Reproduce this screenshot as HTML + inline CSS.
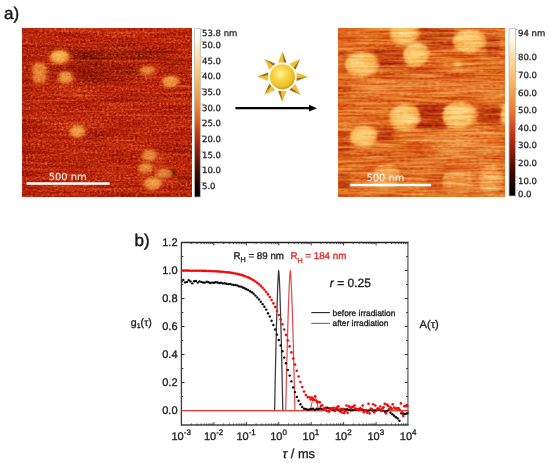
<!DOCTYPE html>
<html><head><meta charset="utf-8"><title>Figure</title><style>
html,body{margin:0;padding:0;background:#fff;}
svg{display:block;}
text{font-family:"Liberation Sans",Arial,sans-serif;fill:#1c1c1c;text-rendering:geometricPrecision;}
#plot text{stroke:#1c1c1c;stroke-width:0.32px;}
.ax{font-size:11px;}
.lab{font-size:9.75px;}
.leg{font-size:8.4px;}
.pl{font-size:17px;fill:#1a1a1a;stroke:#1a1a1a;stroke-width:0.45px;}
.cb{font-family:"DejaVu Sans",sans-serif;font-size:8.5px;fill:#262626;stroke:#262626;stroke-width:0.3px;}
.sb{font-family:"DejaVu Sans",sans-serif;font-size:9.9px;fill:#fff;}
</style></head>
<body><svg width="550" height="463" viewBox="0 0 550 463">
<defs>
<clipPath id="clipP"><rect x="181.5" y="242.5" width="227" height="182.5"/></clipPath>
<clipPath id="clipL"><rect x="22" y="28" width="170" height="169"/></clipPath>
<clipPath id="clipR"><rect x="338" y="28" width="167" height="169"/></clipPath>
<filter id="b1" x="-50%" y="-50%" width="200%" height="200%"><feGaussianBlur stdDeviation="1"/></filter>
<filter id="b2" x="-50%" y="-50%" width="200%" height="200%"><feGaussianBlur stdDeviation="1.6"/></filter>
<filter id="b3" x="-50%" y="-50%" width="200%" height="200%"><feGaussianBlur stdDeviation="3"/></filter>
<filter id="b4" x="-50%" y="-50%" width="200%" height="200%"><feGaussianBlur stdDeviation="4"/></filter>
<filter id="b08" x="-50%" y="-50%" width="200%" height="200%"><feGaussianBlur stdDeviation="0.8"/></filter>
<filter id="b15" x="-50%" y="-50%" width="200%" height="200%"><feGaussianBlur stdDeviation="1.3"/></filter>
<filter id="texL" x="0" y="0" width="100%" height="100%" color-interpolation-filters="sRGB">
  <feTurbulence type="fractalNoise" baseFrequency="0.42 0.55" numOctaves="2" seed="4" result="n1"/>
  <feTurbulence type="fractalNoise" baseFrequency="0.02 0.35" numOctaves="2" seed="11" result="n2"/>
  <feComposite in="n1" in2="n2" operator="arithmetic" k1="0" k2="0.75" k3="0.45" k4="-0.1" result="n"/>
  <feColorMatrix in="n" type="matrix" values="1.5 0 0 0 -0.25  1.5 0 0 0 -0.25  1.5 0 0 0 -0.25  0 0 0 0 1"/>
</filter>
<filter id="texR" x="0" y="0" width="100%" height="100%" color-interpolation-filters="sRGB">
  <feTurbulence type="fractalNoise" baseFrequency="0.25 0.5" numOctaves="1" seed="3" result="n1"/>
  <feTurbulence type="fractalNoise" baseFrequency="0.025 0.4" numOctaves="2" seed="9" result="n2"/>
  <feComposite in="n1" in2="n2" operator="arithmetic" k1="0" k2="0.35" k3="0.85" k4="-0.1" result="n"/>
  <feColorMatrix in="n" type="matrix" values="1.35 0 0 0 -0.175  1.35 0 0 0 -0.175  1.35 0 0 0 -0.175  0 0 0 0 1"/>
</filter>
<radialGradient id="gY" cx="0.45" cy="0.42" r="0.55"><stop offset="0" stop-color="#fac868"/><stop offset="0.55" stop-color="#f4b050"/><stop offset="0.85" stop-color="#e88a3a"/><stop offset="1" stop-color="#e07830" stop-opacity="0"/></radialGradient>
<radialGradient id="gO" cx="0.45" cy="0.42" r="0.55"><stop offset="0" stop-color="#ee9c48"/><stop offset="0.55" stop-color="#e68a3c"/><stop offset="0.85" stop-color="#e07c34"/><stop offset="1" stop-color="#d86a2c" stop-opacity="0"/></radialGradient>
<radialGradient id="gO2" cx="0.45" cy="0.42" r="0.55"><stop offset="0" stop-color="#f4aa54"/><stop offset="0.55" stop-color="#ee9a44"/><stop offset="0.85" stop-color="#e4843a"/><stop offset="1" stop-color="#d86a2c" stop-opacity="0"/></radialGradient>
<radialGradient id="gO3" cx="0.45" cy="0.42" r="0.55"><stop offset="0" stop-color="#ea9444"/><stop offset="0.55" stop-color="#e2823a"/><stop offset="0.85" stop-color="#d87030"/><stop offset="1" stop-color="#d06028" stop-opacity="0"/></radialGradient>
<radialGradient id="gR" cx="0.45" cy="0.45" r="0.55"><stop offset="0" stop-color="#fdd88a"/><stop offset="0.6" stop-color="#fbcc78"/><stop offset="0.82" stop-color="#f6b862"/><stop offset="0.95" stop-color="#f0a050" stop-opacity="0.6"/><stop offset="1" stop-color="#f0a050" stop-opacity="0"/></radialGradient>
<radialGradient id="gRd2" cx="0.45" cy="0.45" r="0.55"><stop offset="0" stop-color="#f4b060"/><stop offset="0.6" stop-color="#f0a858"/><stop offset="0.85" stop-color="#ec9c4c"/><stop offset="1" stop-color="#e89040" stop-opacity="0"/></radialGradient>
<radialGradient id="gRd" cx="0.45" cy="0.45" r="0.55"><stop offset="0" stop-color="#f8bc6c"/><stop offset="0.6" stop-color="#f4ae5c"/><stop offset="0.85" stop-color="#eea050"/><stop offset="1" stop-color="#e89040" stop-opacity="0"/></radialGradient>
<radialGradient id="sung" cx="0.42" cy="0.38" r="0.68"><stop offset="0" stop-color="#fff6b8"/><stop offset="0.28" stop-color="#fcdc50"/><stop offset="0.72" stop-color="#f0c02a"/><stop offset="1" stop-color="#c89412"/></radialGradient>
<linearGradient id="cbL" x1="0" y1="0" x2="0" y2="1"><stop offset="0" stop-color="#ffffff"/><stop offset="0.07" stop-color="#fef8ec"/><stop offset="0.15" stop-color="#fde2b4"/><stop offset="0.256" stop-color="#fbc87c"/><stop offset="0.35" stop-color="#f6ac58"/><stop offset="0.44" stop-color="#ee8e3e"/><stop offset="0.53" stop-color="#e06828"/><stop offset="0.6" stop-color="#cc4418"/><stop offset="0.68" stop-color="#a82810"/><stop offset="0.76" stop-color="#781a08"/><stop offset="0.85" stop-color="#400a04"/><stop offset="0.93" stop-color="#180402"/><stop offset="1" stop-color="#000000"/></linearGradient>
<linearGradient id="cbR" x1="0" y1="0" x2="0" y2="1"><stop offset="0" stop-color="#ffffff"/><stop offset="0.07" stop-color="#fef8ec"/><stop offset="0.15" stop-color="#fde2b4"/><stop offset="0.256" stop-color="#fbc87c"/><stop offset="0.35" stop-color="#f6ac58"/><stop offset="0.44" stop-color="#ee8e3e"/><stop offset="0.53" stop-color="#e06828"/><stop offset="0.6" stop-color="#cc4418"/><stop offset="0.68" stop-color="#a82810"/><stop offset="0.76" stop-color="#781a08"/><stop offset="0.85" stop-color="#400a04"/><stop offset="0.93" stop-color="#180402"/><stop offset="1" stop-color="#000000"/></linearGradient>
</defs>

<rect width="550" height="463" fill="#fff"/>
<g id="plot"><line x1="181.4" y1="242.5" x2="408.6" y2="242.5" stroke="#222" stroke-width="1.4"/><line x1="181.4" y1="241.8" x2="181.4" y2="425.6" stroke="#3a3a3a" stroke-width="1.3"/><line x1="181" y1="425" x2="408.6" y2="425" stroke="#444" stroke-width="1.3"/><line x1="407.9" y1="241.8" x2="407.9" y2="425.6" stroke="#777" stroke-width="1.5"/><line x1="181.5" y1="410.5" x2="184.5" y2="410.5" stroke="#333" stroke-width="1"/><line x1="407.9" y1="410.5" x2="404.9" y2="410.5" stroke="#333" stroke-width="1"/><line x1="181.5" y1="396.5" x2="183.3" y2="396.5" stroke="#333" stroke-width="1"/><line x1="407.9" y1="396.5" x2="406.1" y2="396.5" stroke="#333" stroke-width="1"/><line x1="181.5" y1="382.5" x2="184.5" y2="382.5" stroke="#333" stroke-width="1"/><line x1="407.9" y1="382.5" x2="404.9" y2="382.5" stroke="#333" stroke-width="1"/><line x1="181.5" y1="368.5" x2="183.3" y2="368.5" stroke="#333" stroke-width="1"/><line x1="407.9" y1="368.5" x2="406.1" y2="368.5" stroke="#333" stroke-width="1"/><line x1="181.5" y1="354.5" x2="184.5" y2="354.5" stroke="#333" stroke-width="1"/><line x1="407.9" y1="354.5" x2="404.9" y2="354.5" stroke="#333" stroke-width="1"/><line x1="181.5" y1="340.5" x2="183.3" y2="340.5" stroke="#333" stroke-width="1"/><line x1="407.9" y1="340.5" x2="406.1" y2="340.5" stroke="#333" stroke-width="1"/><line x1="181.5" y1="326.5" x2="184.5" y2="326.5" stroke="#333" stroke-width="1"/><line x1="407.9" y1="326.5" x2="404.9" y2="326.5" stroke="#333" stroke-width="1"/><line x1="181.5" y1="312.5" x2="183.3" y2="312.5" stroke="#333" stroke-width="1"/><line x1="407.9" y1="312.5" x2="406.1" y2="312.5" stroke="#333" stroke-width="1"/><line x1="181.5" y1="298.5" x2="184.5" y2="298.5" stroke="#333" stroke-width="1"/><line x1="407.9" y1="298.5" x2="404.9" y2="298.5" stroke="#333" stroke-width="1"/><line x1="181.5" y1="284.5" x2="183.3" y2="284.5" stroke="#333" stroke-width="1"/><line x1="407.9" y1="284.5" x2="406.1" y2="284.5" stroke="#333" stroke-width="1"/><line x1="181.5" y1="270.5" x2="184.5" y2="270.5" stroke="#333" stroke-width="1"/><line x1="407.9" y1="270.5" x2="404.9" y2="270.5" stroke="#333" stroke-width="1"/><line x1="181.5" y1="256.5" x2="183.3" y2="256.5" stroke="#333" stroke-width="1"/><line x1="407.9" y1="256.5" x2="406.1" y2="256.5" stroke="#333" stroke-width="1"/><line x1="181.5" y1="242.5" x2="184.5" y2="242.5" stroke="#333" stroke-width="1"/><line x1="407.9" y1="242.5" x2="404.9" y2="242.5" stroke="#333" stroke-width="1"/><line x1="181.5" y1="425" x2="181.5" y2="422.0" stroke="#333" stroke-width="0.9"/><line x1="181.5" y1="242.5" x2="181.5" y2="245.5" stroke="#333" stroke-width="0.9"/><line x1="191.3" y1="425" x2="191.3" y2="423.4" stroke="#333" stroke-width="0.9"/><line x1="191.3" y1="242.5" x2="191.3" y2="244.1" stroke="#333" stroke-width="0.9"/><line x1="197.0" y1="425" x2="197.0" y2="423.4" stroke="#333" stroke-width="0.9"/><line x1="197.0" y1="242.5" x2="197.0" y2="244.1" stroke="#333" stroke-width="0.9"/><line x1="201.0" y1="425" x2="201.0" y2="423.4" stroke="#333" stroke-width="0.9"/><line x1="201.0" y1="242.5" x2="201.0" y2="244.1" stroke="#333" stroke-width="0.9"/><line x1="204.2" y1="425" x2="204.2" y2="423.4" stroke="#333" stroke-width="0.9"/><line x1="204.2" y1="242.5" x2="204.2" y2="244.1" stroke="#333" stroke-width="0.9"/><line x1="206.7" y1="425" x2="206.7" y2="423.4" stroke="#333" stroke-width="0.9"/><line x1="206.7" y1="242.5" x2="206.7" y2="244.1" stroke="#333" stroke-width="0.9"/><line x1="208.9" y1="425" x2="208.9" y2="423.4" stroke="#333" stroke-width="0.9"/><line x1="208.9" y1="242.5" x2="208.9" y2="244.1" stroke="#333" stroke-width="0.9"/><line x1="210.8" y1="425" x2="210.8" y2="423.4" stroke="#333" stroke-width="0.9"/><line x1="210.8" y1="242.5" x2="210.8" y2="244.1" stroke="#333" stroke-width="0.9"/><line x1="212.4" y1="425" x2="212.4" y2="423.4" stroke="#333" stroke-width="0.9"/><line x1="212.4" y1="242.5" x2="212.4" y2="244.1" stroke="#333" stroke-width="0.9"/><line x1="213.9" y1="425" x2="213.9" y2="422.0" stroke="#333" stroke-width="0.9"/><line x1="213.9" y1="242.5" x2="213.9" y2="245.5" stroke="#333" stroke-width="0.9"/><line x1="223.7" y1="425" x2="223.7" y2="423.4" stroke="#333" stroke-width="0.9"/><line x1="223.7" y1="242.5" x2="223.7" y2="244.1" stroke="#333" stroke-width="0.9"/><line x1="229.4" y1="425" x2="229.4" y2="423.4" stroke="#333" stroke-width="0.9"/><line x1="229.4" y1="242.5" x2="229.4" y2="244.1" stroke="#333" stroke-width="0.9"/><line x1="233.5" y1="425" x2="233.5" y2="423.4" stroke="#333" stroke-width="0.9"/><line x1="233.5" y1="242.5" x2="233.5" y2="244.1" stroke="#333" stroke-width="0.9"/><line x1="236.6" y1="425" x2="236.6" y2="423.4" stroke="#333" stroke-width="0.9"/><line x1="236.6" y1="242.5" x2="236.6" y2="244.1" stroke="#333" stroke-width="0.9"/><line x1="239.2" y1="425" x2="239.2" y2="423.4" stroke="#333" stroke-width="0.9"/><line x1="239.2" y1="242.5" x2="239.2" y2="244.1" stroke="#333" stroke-width="0.9"/><line x1="241.3" y1="425" x2="241.3" y2="423.4" stroke="#333" stroke-width="0.9"/><line x1="241.3" y1="242.5" x2="241.3" y2="244.1" stroke="#333" stroke-width="0.9"/><line x1="243.2" y1="425" x2="243.2" y2="423.4" stroke="#333" stroke-width="0.9"/><line x1="243.2" y1="242.5" x2="243.2" y2="244.1" stroke="#333" stroke-width="0.9"/><line x1="244.9" y1="425" x2="244.9" y2="423.4" stroke="#333" stroke-width="0.9"/><line x1="244.9" y1="242.5" x2="244.9" y2="244.1" stroke="#333" stroke-width="0.9"/><line x1="246.4" y1="425" x2="246.4" y2="422.0" stroke="#333" stroke-width="0.9"/><line x1="246.4" y1="242.5" x2="246.4" y2="245.5" stroke="#333" stroke-width="0.9"/><line x1="256.1" y1="425" x2="256.1" y2="423.4" stroke="#333" stroke-width="0.9"/><line x1="256.1" y1="242.5" x2="256.1" y2="244.1" stroke="#333" stroke-width="0.9"/><line x1="261.8" y1="425" x2="261.8" y2="423.4" stroke="#333" stroke-width="0.9"/><line x1="261.8" y1="242.5" x2="261.8" y2="244.1" stroke="#333" stroke-width="0.9"/><line x1="265.9" y1="425" x2="265.9" y2="423.4" stroke="#333" stroke-width="0.9"/><line x1="265.9" y1="242.5" x2="265.9" y2="244.1" stroke="#333" stroke-width="0.9"/><line x1="269.0" y1="425" x2="269.0" y2="423.4" stroke="#333" stroke-width="0.9"/><line x1="269.0" y1="242.5" x2="269.0" y2="244.1" stroke="#333" stroke-width="0.9"/><line x1="271.6" y1="425" x2="271.6" y2="423.4" stroke="#333" stroke-width="0.9"/><line x1="271.6" y1="242.5" x2="271.6" y2="244.1" stroke="#333" stroke-width="0.9"/><line x1="273.8" y1="425" x2="273.8" y2="423.4" stroke="#333" stroke-width="0.9"/><line x1="273.8" y1="242.5" x2="273.8" y2="244.1" stroke="#333" stroke-width="0.9"/><line x1="275.6" y1="425" x2="275.6" y2="423.4" stroke="#333" stroke-width="0.9"/><line x1="275.6" y1="242.5" x2="275.6" y2="244.1" stroke="#333" stroke-width="0.9"/><line x1="277.3" y1="425" x2="277.3" y2="423.4" stroke="#333" stroke-width="0.9"/><line x1="277.3" y1="242.5" x2="277.3" y2="244.1" stroke="#333" stroke-width="0.9"/><line x1="278.8" y1="425" x2="278.8" y2="422.0" stroke="#333" stroke-width="0.9"/><line x1="278.8" y1="242.5" x2="278.8" y2="245.5" stroke="#333" stroke-width="0.9"/><line x1="288.6" y1="425" x2="288.6" y2="423.4" stroke="#333" stroke-width="0.9"/><line x1="288.6" y1="242.5" x2="288.6" y2="244.1" stroke="#333" stroke-width="0.9"/><line x1="294.3" y1="425" x2="294.3" y2="423.4" stroke="#333" stroke-width="0.9"/><line x1="294.3" y1="242.5" x2="294.3" y2="244.1" stroke="#333" stroke-width="0.9"/><line x1="298.3" y1="425" x2="298.3" y2="423.4" stroke="#333" stroke-width="0.9"/><line x1="298.3" y1="242.5" x2="298.3" y2="244.1" stroke="#333" stroke-width="0.9"/><line x1="301.5" y1="425" x2="301.5" y2="423.4" stroke="#333" stroke-width="0.9"/><line x1="301.5" y1="242.5" x2="301.5" y2="244.1" stroke="#333" stroke-width="0.9"/><line x1="304.0" y1="425" x2="304.0" y2="423.4" stroke="#333" stroke-width="0.9"/><line x1="304.0" y1="242.5" x2="304.0" y2="244.1" stroke="#333" stroke-width="0.9"/><line x1="306.2" y1="425" x2="306.2" y2="423.4" stroke="#333" stroke-width="0.9"/><line x1="306.2" y1="242.5" x2="306.2" y2="244.1" stroke="#333" stroke-width="0.9"/><line x1="308.1" y1="425" x2="308.1" y2="423.4" stroke="#333" stroke-width="0.9"/><line x1="308.1" y1="242.5" x2="308.1" y2="244.1" stroke="#333" stroke-width="0.9"/><line x1="309.7" y1="425" x2="309.7" y2="423.4" stroke="#333" stroke-width="0.9"/><line x1="309.7" y1="242.5" x2="309.7" y2="244.1" stroke="#333" stroke-width="0.9"/><line x1="311.2" y1="425" x2="311.2" y2="422.0" stroke="#333" stroke-width="0.9"/><line x1="311.2" y1="242.5" x2="311.2" y2="245.5" stroke="#333" stroke-width="0.9"/><line x1="321.0" y1="425" x2="321.0" y2="423.4" stroke="#333" stroke-width="0.9"/><line x1="321.0" y1="242.5" x2="321.0" y2="244.1" stroke="#333" stroke-width="0.9"/><line x1="326.7" y1="425" x2="326.7" y2="423.4" stroke="#333" stroke-width="0.9"/><line x1="326.7" y1="242.5" x2="326.7" y2="244.1" stroke="#333" stroke-width="0.9"/><line x1="330.7" y1="425" x2="330.7" y2="423.4" stroke="#333" stroke-width="0.9"/><line x1="330.7" y1="242.5" x2="330.7" y2="244.1" stroke="#333" stroke-width="0.9"/><line x1="333.9" y1="425" x2="333.9" y2="423.4" stroke="#333" stroke-width="0.9"/><line x1="333.9" y1="242.5" x2="333.9" y2="244.1" stroke="#333" stroke-width="0.9"/><line x1="336.5" y1="425" x2="336.5" y2="423.4" stroke="#333" stroke-width="0.9"/><line x1="336.5" y1="242.5" x2="336.5" y2="244.1" stroke="#333" stroke-width="0.9"/><line x1="338.6" y1="425" x2="338.6" y2="423.4" stroke="#333" stroke-width="0.9"/><line x1="338.6" y1="242.5" x2="338.6" y2="244.1" stroke="#333" stroke-width="0.9"/><line x1="340.5" y1="425" x2="340.5" y2="423.4" stroke="#333" stroke-width="0.9"/><line x1="340.5" y1="242.5" x2="340.5" y2="244.1" stroke="#333" stroke-width="0.9"/><line x1="342.2" y1="425" x2="342.2" y2="423.4" stroke="#333" stroke-width="0.9"/><line x1="342.2" y1="242.5" x2="342.2" y2="244.1" stroke="#333" stroke-width="0.9"/><line x1="343.6" y1="425" x2="343.6" y2="422.0" stroke="#333" stroke-width="0.9"/><line x1="343.6" y1="242.5" x2="343.6" y2="245.5" stroke="#333" stroke-width="0.9"/><line x1="353.4" y1="425" x2="353.4" y2="423.4" stroke="#333" stroke-width="0.9"/><line x1="353.4" y1="242.5" x2="353.4" y2="244.1" stroke="#333" stroke-width="0.9"/><line x1="359.1" y1="425" x2="359.1" y2="423.4" stroke="#333" stroke-width="0.9"/><line x1="359.1" y1="242.5" x2="359.1" y2="244.1" stroke="#333" stroke-width="0.9"/><line x1="363.2" y1="425" x2="363.2" y2="423.4" stroke="#333" stroke-width="0.9"/><line x1="363.2" y1="242.5" x2="363.2" y2="244.1" stroke="#333" stroke-width="0.9"/><line x1="366.3" y1="425" x2="366.3" y2="423.4" stroke="#333" stroke-width="0.9"/><line x1="366.3" y1="242.5" x2="366.3" y2="244.1" stroke="#333" stroke-width="0.9"/><line x1="368.9" y1="425" x2="368.9" y2="423.4" stroke="#333" stroke-width="0.9"/><line x1="368.9" y1="242.5" x2="368.9" y2="244.1" stroke="#333" stroke-width="0.9"/><line x1="371.1" y1="425" x2="371.1" y2="423.4" stroke="#333" stroke-width="0.9"/><line x1="371.1" y1="242.5" x2="371.1" y2="244.1" stroke="#333" stroke-width="0.9"/><line x1="372.9" y1="425" x2="372.9" y2="423.4" stroke="#333" stroke-width="0.9"/><line x1="372.9" y1="242.5" x2="372.9" y2="244.1" stroke="#333" stroke-width="0.9"/><line x1="374.6" y1="425" x2="374.6" y2="423.4" stroke="#333" stroke-width="0.9"/><line x1="374.6" y1="242.5" x2="374.6" y2="244.1" stroke="#333" stroke-width="0.9"/><line x1="376.1" y1="425" x2="376.1" y2="422.0" stroke="#333" stroke-width="0.9"/><line x1="376.1" y1="242.5" x2="376.1" y2="245.5" stroke="#333" stroke-width="0.9"/><line x1="385.8" y1="425" x2="385.8" y2="423.4" stroke="#333" stroke-width="0.9"/><line x1="385.8" y1="242.5" x2="385.8" y2="244.1" stroke="#333" stroke-width="0.9"/><line x1="391.6" y1="425" x2="391.6" y2="423.4" stroke="#333" stroke-width="0.9"/><line x1="391.6" y1="242.5" x2="391.6" y2="244.1" stroke="#333" stroke-width="0.9"/><line x1="395.6" y1="425" x2="395.6" y2="423.4" stroke="#333" stroke-width="0.9"/><line x1="395.6" y1="242.5" x2="395.6" y2="244.1" stroke="#333" stroke-width="0.9"/><line x1="398.7" y1="425" x2="398.7" y2="423.4" stroke="#333" stroke-width="0.9"/><line x1="398.7" y1="242.5" x2="398.7" y2="244.1" stroke="#333" stroke-width="0.9"/><line x1="401.3" y1="425" x2="401.3" y2="423.4" stroke="#333" stroke-width="0.9"/><line x1="401.3" y1="242.5" x2="401.3" y2="244.1" stroke="#333" stroke-width="0.9"/><line x1="403.5" y1="425" x2="403.5" y2="423.4" stroke="#333" stroke-width="0.9"/><line x1="403.5" y1="242.5" x2="403.5" y2="244.1" stroke="#333" stroke-width="0.9"/><line x1="405.4" y1="425" x2="405.4" y2="423.4" stroke="#333" stroke-width="0.9"/><line x1="405.4" y1="242.5" x2="405.4" y2="244.1" stroke="#333" stroke-width="0.9"/><line x1="407.0" y1="425" x2="407.0" y2="423.4" stroke="#333" stroke-width="0.9"/><line x1="407.0" y1="242.5" x2="407.0" y2="244.1" stroke="#333" stroke-width="0.9"/><text x="177.5" y="414.4" text-anchor="end" class="ax">0.0</text><text x="177.5" y="386.4" text-anchor="end" class="ax">0.2</text><text x="177.5" y="358.4" text-anchor="end" class="ax">0.4</text><text x="177.5" y="330.4" text-anchor="end" class="ax">0.6</text><text x="177.5" y="302.4" text-anchor="end" class="ax">0.8</text><text x="177.5" y="274.4" text-anchor="end" class="ax">1.0</text><text x="177.5" y="246.4" text-anchor="end" class="ax">1.2</text><text x="181.2" y="440.3" text-anchor="middle" class="ax">10<tspan dy="-5" style="font-size:8px">-3</tspan></text><text x="213.6" y="440.3" text-anchor="middle" class="ax">10<tspan dy="-5" style="font-size:8px">-2</tspan></text><text x="246.1" y="440.3" text-anchor="middle" class="ax">10<tspan dy="-5" style="font-size:8px">-1</tspan></text><text x="278.5" y="440.3" text-anchor="middle" class="ax">10<tspan dy="-5" style="font-size:8px">0</tspan></text><text x="310.9" y="440.3" text-anchor="middle" class="ax">10<tspan dy="-5" style="font-size:8px">1</tspan></text><text x="343.3" y="440.3" text-anchor="middle" class="ax">10<tspan dy="-5" style="font-size:8px">2</tspan></text><text x="375.8" y="440.3" text-anchor="middle" class="ax">10<tspan dy="-5" style="font-size:8px">3</tspan></text><text x="408.2" y="440.3" text-anchor="middle" class="ax">10<tspan dy="-5" style="font-size:8px">4</tspan></text><line x1="181.5" y1="410.6" x2="408.5" y2="410.6" stroke="#333" stroke-width="1"/><path d="M273.60,410.50 L274.60,410.50 L274.81,400.13 L275.01,390.03 L275.21,380.21 L275.42,370.68 L275.62,361.43 L275.83,352.49 L276.03,343.87 L276.24,335.57 L276.44,327.60 L276.65,320.00 L276.85,312.76 L277.06,305.92 L277.26,299.49 L277.47,293.50 L277.68,288.00 L277.88,283.02 L278.08,278.63 L278.29,274.93 L278.50,272.07 L278.70,270.50 L278.90,272.07 L279.11,274.93 L279.31,278.63 L279.52,283.02 L279.72,288.00 L279.93,293.50 L280.13,299.49 L280.34,305.92 L280.55,312.76 L280.75,320.00 L280.95,327.60 L281.16,335.57 L281.37,343.87 L281.57,352.49 L281.77,361.43 L281.98,370.68 L282.19,380.21 L282.39,390.03 L282.59,400.13 L282.80,410.50 L283.80,410.50" fill="none" stroke="#3a3a3a" stroke-width="1.25" stroke-linejoin="round"/><line x1="181.5" y1="410.6" x2="408.5" y2="410.6" stroke="#e23c3c" stroke-width="1.3"/><path d="M284.70,410.50 L285.70,410.50 L285.93,400.13 L286.16,390.03 L286.39,380.21 L286.62,370.68 L286.85,361.43 L287.08,352.49 L287.31,343.87 L287.54,335.57 L287.77,327.60 L288.00,320.00 L288.23,312.76 L288.46,305.92 L288.69,299.49 L288.92,293.50 L289.15,288.00 L289.38,283.02 L289.61,278.63 L289.84,274.93 L290.07,272.07 L290.30,270.50 L290.53,272.07 L290.76,274.93 L290.99,278.63 L291.22,283.02 L291.45,288.00 L291.68,293.50 L291.91,299.49 L292.14,305.92 L292.37,312.76 L292.60,320.00 L292.83,327.60 L293.06,335.57 L293.29,343.87 L293.52,352.49 L293.75,361.43 L293.98,370.68 L294.21,380.21 L294.44,390.03 L294.67,400.13 L294.90,410.50 L295.90,410.50" fill="none" stroke="#e44848" stroke-width="1.2" stroke-linejoin="round"/><path d="M309.30,410.50 L310.30,410.50 L310.51,409.40 L310.72,408.33 L310.93,407.29 L311.14,406.30 L311.35,405.34 L311.56,404.41 L311.77,403.53 L311.98,402.68 L312.19,401.88 L312.40,401.12 L312.61,400.40 L312.82,399.73 L313.03,399.11 L313.24,398.54 L313.45,398.02 L313.66,397.57 L313.87,397.17 L314.08,396.85 L314.29,396.62 L314.50,396.50 L314.71,396.62 L314.92,396.85 L315.13,397.17 L315.34,397.57 L315.55,398.02 L315.76,398.54 L315.97,399.11 L316.18,399.73 L316.39,400.40 L316.60,401.12 L316.81,401.88 L317.02,402.68 L317.23,403.53 L317.44,404.41 L317.65,405.34 L317.86,406.30 L318.07,407.29 L318.28,408.33 L318.49,409.40 L318.70,410.50 L319.70,410.50" fill="none" stroke="#e44848" stroke-width="1.1" stroke-linejoin="round"/><g clip-path="url(#clipP)"><g fill="#0a0a0a"><circle cx="181.5" cy="281.6" r="1.2"/><circle cx="183.3" cy="280.0" r="1.2"/><circle cx="185.1" cy="282.4" r="1.2"/><circle cx="186.9" cy="282.1" r="1.2"/><circle cx="188.7" cy="280.3" r="1.2"/><circle cx="190.5" cy="281.5" r="1.2"/><circle cx="192.3" cy="283.4" r="1.2"/><circle cx="194.1" cy="281.2" r="1.2"/><circle cx="195.9" cy="281.0" r="1.2"/><circle cx="197.7" cy="282.6" r="1.2"/><circle cx="199.5" cy="281.4" r="1.2"/><circle cx="201.3" cy="281.9" r="1.2"/><circle cx="203.1" cy="282.5" r="1.2"/><circle cx="204.9" cy="282.6" r="1.2"/><circle cx="206.7" cy="281.7" r="1.2"/><circle cx="208.5" cy="282.2" r="1.2"/><circle cx="210.3" cy="283.0" r="1.2"/><circle cx="212.1" cy="282.6" r="1.2"/><circle cx="213.9" cy="282.7" r="1.2"/><circle cx="215.7" cy="282.3" r="1.2"/><circle cx="217.5" cy="282.5" r="1.2"/><circle cx="219.3" cy="283.0" r="1.2"/><circle cx="221.1" cy="282.8" r="1.2"/><circle cx="222.9" cy="283.4" r="1.2"/><circle cx="224.7" cy="283.3" r="1.2"/><circle cx="226.5" cy="283.8" r="1.2"/><circle cx="228.3" cy="284.1" r="1.2"/><circle cx="230.1" cy="283.9" r="1.2"/><circle cx="231.9" cy="284.6" r="1.2"/><circle cx="233.7" cy="285.0" r="1.2"/><circle cx="235.5" cy="285.0" r="1.2"/><circle cx="237.4" cy="285.5" r="1.2"/><circle cx="239.2" cy="286.4" r="1.2"/><circle cx="241.0" cy="286.6" r="1.2"/><circle cx="242.8" cy="287.5" r="1.2"/><circle cx="244.6" cy="288.2" r="1.2"/><circle cx="246.4" cy="289.3" r="1.2"/><circle cx="248.2" cy="289.9" r="1.2"/><circle cx="250.0" cy="291.2" r="1.2"/><circle cx="251.8" cy="292.3" r="1.2"/><circle cx="253.6" cy="293.7" r="1.2"/><circle cx="255.4" cy="295.6" r="1.2"/><circle cx="257.2" cy="297.4" r="1.2"/><circle cx="259.0" cy="299.4" r="1.2"/><circle cx="260.8" cy="301.7" r="1.2"/><circle cx="262.6" cy="304.2" r="1.2"/><circle cx="264.4" cy="306.8" r="1.2"/><circle cx="266.2" cy="309.6" r="1.2"/><circle cx="268.0" cy="313.3" r="1.2"/><circle cx="269.8" cy="316.5" r="1.2"/><circle cx="271.6" cy="320.7" r="1.2"/><circle cx="273.4" cy="325.0" r="1.2"/><circle cx="275.2" cy="329.4" r="1.2"/><circle cx="277.0" cy="334.6" r="1.2"/><circle cx="278.8" cy="340.0" r="1.2"/><circle cx="280.6" cy="345.5" r="1.2"/><circle cx="282.4" cy="351.3" r="1.2"/><circle cx="284.2" cy="357.6" r="1.2"/><circle cx="286.0" cy="363.3" r="1.2"/><circle cx="287.8" cy="369.9" r="1.2"/><circle cx="289.6" cy="375.6" r="1.2"/><circle cx="291.4" cy="381.4" r="1.2"/><circle cx="293.2" cy="387.4" r="1.2"/><circle cx="295.0" cy="392.1" r="1.2"/><circle cx="296.8" cy="396.9" r="1.2"/><circle cx="298.6" cy="400.7" r="1.2"/><circle cx="300.4" cy="404.3" r="1.2"/><circle cx="302.2" cy="407.0" r="1.2"/><circle cx="304.0" cy="408.7" r="1.2"/><circle cx="305.8" cy="408.9" r="1.2"/><circle cx="307.6" cy="409.8" r="1.2"/><circle cx="309.4" cy="409.5" r="1.2"/><circle cx="311.2" cy="409.0" r="1.2"/><circle cx="313.0" cy="408.8" r="1.2"/><circle cx="314.8" cy="410.0" r="1.2"/><circle cx="316.6" cy="408.7" r="1.2"/><circle cx="318.4" cy="409.3" r="1.2"/><circle cx="320.2" cy="408.5" r="1.2"/><circle cx="322.0" cy="409.1" r="1.2"/><circle cx="323.8" cy="408.6" r="1.2"/><circle cx="325.6" cy="407.8" r="1.2"/><circle cx="327.4" cy="407.7" r="1.2"/><circle cx="329.2" cy="408.5" r="1.2"/><circle cx="331.0" cy="408.8" r="1.2"/><circle cx="332.8" cy="409.7" r="1.2"/><circle cx="334.6" cy="410.3" r="1.2"/><circle cx="336.4" cy="408.7" r="1.2"/><circle cx="338.2" cy="409.6" r="1.2"/><circle cx="340.0" cy="411.3" r="1.2"/><circle cx="341.8" cy="409.5" r="1.2"/><circle cx="343.6" cy="409.0" r="1.2"/><circle cx="345.5" cy="409.5" r="1.2"/><circle cx="347.3" cy="409.2" r="1.2"/><circle cx="349.1" cy="409.9" r="1.2"/><circle cx="350.9" cy="410.3" r="1.2"/><circle cx="352.7" cy="410.0" r="1.2"/><circle cx="354.5" cy="409.5" r="1.2"/><circle cx="356.3" cy="409.7" r="1.2"/><circle cx="358.1" cy="409.4" r="1.2"/><circle cx="359.9" cy="409.3" r="1.2"/><circle cx="361.7" cy="409.1" r="1.2"/><circle cx="363.5" cy="410.3" r="1.2"/><circle cx="365.3" cy="410.3" r="1.2"/><circle cx="367.1" cy="410.6" r="1.2"/><circle cx="368.9" cy="410.5" r="1.2"/><circle cx="370.7" cy="409.9" r="1.2"/><circle cx="372.5" cy="410.6" r="1.2"/><circle cx="374.3" cy="410.5" r="1.2"/><circle cx="376.1" cy="410.4" r="1.2"/><circle cx="377.9" cy="409.9" r="1.2"/><circle cx="379.7" cy="409.4" r="1.2"/><circle cx="381.5" cy="410.6" r="1.2"/><circle cx="383.3" cy="410.6" r="1.2"/><circle cx="385.1" cy="411.8" r="1.2"/><circle cx="386.9" cy="411.3" r="1.2"/><circle cx="388.7" cy="409.8" r="1.2"/><circle cx="390.5" cy="412.7" r="1.2"/><circle cx="392.3" cy="414.3" r="1.2"/><circle cx="394.1" cy="415.8" r="1.2"/><circle cx="395.9" cy="417.2" r="1.2"/><circle cx="397.7" cy="418.5" r="1.2"/><circle cx="399.5" cy="420.8" r="1.2"/><circle cx="401.3" cy="413.3" r="1.2"/><circle cx="403.1" cy="413.8" r="1.2"/><circle cx="404.9" cy="414.0" r="1.2"/><circle cx="406.7" cy="413.5" r="1.2"/><circle cx="408.5" cy="413.1" r="1.2"/></g><g fill="#f40808"><circle cx="181.5" cy="270.6" r="1.3"/><circle cx="183.3" cy="270.6" r="1.3"/><circle cx="185.1" cy="270.6" r="1.3"/><circle cx="186.9" cy="270.6" r="1.3"/><circle cx="188.7" cy="270.6" r="1.3"/><circle cx="190.5" cy="270.7" r="1.3"/><circle cx="192.3" cy="270.7" r="1.3"/><circle cx="194.1" cy="270.7" r="1.3"/><circle cx="195.9" cy="270.7" r="1.3"/><circle cx="197.7" cy="270.8" r="1.3"/><circle cx="199.5" cy="270.8" r="1.3"/><circle cx="201.3" cy="270.8" r="1.3"/><circle cx="203.1" cy="270.9" r="1.3"/><circle cx="204.9" cy="270.9" r="1.3"/><circle cx="206.7" cy="271.0" r="1.3"/><circle cx="208.5" cy="271.0" r="1.3"/><circle cx="210.3" cy="271.1" r="1.3"/><circle cx="212.1" cy="271.2" r="1.3"/><circle cx="213.9" cy="271.2" r="1.3"/><circle cx="215.7" cy="271.3" r="1.3"/><circle cx="217.5" cy="271.4" r="1.3"/><circle cx="219.3" cy="271.6" r="1.3"/><circle cx="221.1" cy="271.7" r="1.3"/><circle cx="222.9" cy="271.8" r="1.3"/><circle cx="224.7" cy="272.0" r="1.3"/><circle cx="226.5" cy="272.2" r="1.3"/><circle cx="228.3" cy="272.4" r="1.3"/><circle cx="230.1" cy="272.6" r="1.3"/><circle cx="231.9" cy="272.9" r="1.3"/><circle cx="233.7" cy="273.2" r="1.3"/><circle cx="235.5" cy="273.5" r="1.3"/><circle cx="237.4" cy="273.9" r="1.3"/><circle cx="239.2" cy="274.4" r="1.3"/><circle cx="241.0" cy="274.8" r="1.3"/><circle cx="242.8" cy="275.4" r="1.3"/><circle cx="244.6" cy="276.0" r="1.3"/><circle cx="246.4" cy="276.7" r="1.3"/><circle cx="248.2" cy="277.4" r="1.3"/><circle cx="250.0" cy="278.3" r="1.3"/><circle cx="251.8" cy="279.2" r="1.3"/><circle cx="253.6" cy="280.3" r="1.3"/><circle cx="255.4" cy="281.5" r="1.3"/><circle cx="257.2" cy="282.8" r="1.3"/><circle cx="259.0" cy="284.2" r="1.3"/><circle cx="260.8" cy="285.9" r="1.3"/><circle cx="262.6" cy="287.7" r="1.3"/><circle cx="264.4" cy="289.7" r="1.3"/><circle cx="266.2" cy="292.0" r="1.3"/><circle cx="268.0" cy="294.4" r="1.3"/><circle cx="269.8" cy="297.1" r="1.3"/><circle cx="271.6" cy="300.1" r="1.3"/><circle cx="273.4" cy="303.4" r="1.3"/><circle cx="275.2" cy="306.9" r="1.3"/><circle cx="277.0" cy="310.8" r="1.3"/><circle cx="278.8" cy="315.0" r="1.3"/><circle cx="280.6" cy="319.5" r="1.3"/><circle cx="282.4" cy="324.3" r="1.3"/><circle cx="284.2" cy="329.5" r="1.3"/><circle cx="286.0" cy="334.9" r="1.3"/><circle cx="287.8" cy="340.5" r="1.3"/><circle cx="289.6" cy="346.4" r="1.3"/><circle cx="291.4" cy="352.4" r="1.3"/><circle cx="293.2" cy="358.5" r="1.3"/><circle cx="295.0" cy="364.6" r="1.3"/><circle cx="296.8" cy="370.7" r="1.3"/><circle cx="298.6" cy="376.5" r="1.3"/><circle cx="300.4" cy="382.0" r="1.3"/><circle cx="302.2" cy="387.1" r="1.3"/><circle cx="304.0" cy="391.5" r="1.3"/><circle cx="305.8" cy="395.0" r="1.3"/><circle cx="307.6" cy="397.1" r="1.3"/><circle cx="309.4" cy="397.3" r="1.3"/><circle cx="310.6" cy="399.4" r="1.3"/><circle cx="311.7" cy="397.5" r="1.3"/><circle cx="312.9" cy="399.4" r="1.3"/><circle cx="314.1" cy="399.9" r="1.3"/><circle cx="315.2" cy="396.2" r="1.3"/><circle cx="316.4" cy="400.7" r="1.3"/><circle cx="317.5" cy="402.4" r="1.3"/><circle cx="318.7" cy="402.0" r="1.3"/><circle cx="319.8" cy="402.3" r="1.3"/><circle cx="321.0" cy="405.9" r="1.3"/><circle cx="322.2" cy="405.3" r="1.3"/><circle cx="323.3" cy="409.3" r="1.3"/><circle cx="324.5" cy="408.3" r="1.3"/><circle cx="325.6" cy="408.7" r="1.3"/><circle cx="326.8" cy="410.8" r="1.3"/><circle cx="327.9" cy="411.3" r="1.3"/><circle cx="329.1" cy="411.6" r="1.3"/><circle cx="330.3" cy="408.5" r="1.3"/><circle cx="331.4" cy="408.4" r="1.3"/><circle cx="332.6" cy="408.7" r="1.3"/><circle cx="333.7" cy="407.8" r="1.3"/><circle cx="334.9" cy="411.0" r="1.3"/><circle cx="336.1" cy="408.2" r="1.3"/><circle cx="337.2" cy="407.4" r="1.3"/><circle cx="338.4" cy="406.3" r="1.3"/><circle cx="339.5" cy="409.9" r="1.3"/><circle cx="340.7" cy="408.9" r="1.3"/><circle cx="341.8" cy="412.5" r="1.3"/><circle cx="343.0" cy="409.1" r="1.3"/><circle cx="344.2" cy="412.9" r="1.3"/><circle cx="345.3" cy="411.2" r="1.3"/><circle cx="346.5" cy="405.5" r="1.3"/><circle cx="347.6" cy="412.9" r="1.3"/><circle cx="348.8" cy="406.2" r="1.3"/><circle cx="350.0" cy="407.2" r="1.3"/><circle cx="351.1" cy="408.7" r="1.3"/><circle cx="352.3" cy="407.0" r="1.3"/><circle cx="353.4" cy="406.8" r="1.3"/><circle cx="354.6" cy="405.6" r="1.3"/><circle cx="355.7" cy="408.5" r="1.3"/><circle cx="356.9" cy="409.3" r="1.3"/><circle cx="358.1" cy="409.3" r="1.3"/><circle cx="359.2" cy="410.2" r="1.3"/><circle cx="360.4" cy="408.1" r="1.3"/><circle cx="361.5" cy="409.7" r="1.3"/><circle cx="362.7" cy="405.6" r="1.3"/><circle cx="363.9" cy="412.2" r="1.3"/><circle cx="365.0" cy="410.4" r="1.3"/><circle cx="366.2" cy="410.1" r="1.3"/><circle cx="367.3" cy="412.7" r="1.3"/><circle cx="368.5" cy="403.7" r="1.3"/><circle cx="369.6" cy="413.4" r="1.3"/><circle cx="370.8" cy="408.6" r="1.3"/><circle cx="372.0" cy="409.2" r="1.3"/><circle cx="373.1" cy="404.3" r="1.3"/><circle cx="374.3" cy="412.4" r="1.3"/><circle cx="375.4" cy="405.6" r="1.3"/><circle cx="376.6" cy="409.6" r="1.3"/><circle cx="377.8" cy="408.3" r="1.3"/><circle cx="378.9" cy="409.5" r="1.3"/><circle cx="380.1" cy="406.5" r="1.3"/><circle cx="381.2" cy="410.5" r="1.3"/><circle cx="382.4" cy="408.2" r="1.3"/><circle cx="383.5" cy="407.2" r="1.3"/><circle cx="384.7" cy="403.9" r="1.3"/><circle cx="385.9" cy="413.4" r="1.3"/><circle cx="387.0" cy="404.6" r="1.3"/><circle cx="388.2" cy="405.9" r="1.3"/><circle cx="389.3" cy="409.1" r="1.3"/><circle cx="390.5" cy="407.3" r="1.3"/><circle cx="391.7" cy="409.0" r="1.3"/><circle cx="392.8" cy="404.3" r="1.3"/><circle cx="394.0" cy="407.5" r="1.3"/><circle cx="395.1" cy="408.5" r="1.3"/><circle cx="396.3" cy="408.5" r="1.3"/><circle cx="397.4" cy="408.4" r="1.3"/><circle cx="398.6" cy="408.4" r="1.3"/><circle cx="399.8" cy="409.9" r="1.3"/><circle cx="400.9" cy="403.4" r="1.3"/><circle cx="402.1" cy="412.3" r="1.3"/><circle cx="403.2" cy="416.1" r="1.3"/><circle cx="404.4" cy="406.2" r="1.3"/><circle cx="405.6" cy="406.2" r="1.3"/><circle cx="406.7" cy="405.0" r="1.3"/><circle cx="407.9" cy="406.3" r="1.3"/></g></g><text x="233.5" y="258.6" class="lab">R<tspan dy="3.2" style="font-size:7.2px">H</tspan><tspan dy="-3.2"> = 89 nm</tspan></text><text x="290.4" y="259.3" class="lab" style="fill:#e02828;stroke:#e02828">R<tspan dy="3.2" style="font-size:7.2px">H</tspan><tspan dy="-3.2"> = 184 nm</tspan></text><text x="329.8" y="287" class="ax" style="font-size:12px"><tspan font-style="italic">r</tspan> = 0.25</text><line x1="311.3" y1="312.6" x2="329.9" y2="312.6" stroke="#222" stroke-width="1.1"/><line x1="311.3" y1="323.4" x2="329.9" y2="323.4" stroke="#e23a3a" stroke-width="1.1"/><text x="332.5" y="315.6" class="leg">before irradiation</text><text x="332.5" y="326.3" class="leg">after irradiation</text><text x="130.8" y="325.8" class="lab" style="font-size:10.6px">g<tspan dy="2.5" style="font-size:7px">1</tspan><tspan dy="-2.5">(τ)</tspan></text><text x="419.6" y="327.8" class="lab" style="font-size:11.1px">A(τ)</text><text x="282.5" y="457.6" class="ax" style="font-size:12.8px"><tspan font-style="italic">τ</tspan> / ms</text></g><text x="4" y="18.5" class="pl">a)</text><text x="134.5" y="245.7" class="pl">b)</text><line x1="235.5" y1="108.2" x2="311" y2="108.2" stroke="#000" stroke-width="2.2"/><path d="M309,104.8 L317,108.2 L309,111.6 Z" fill="#000"/><g id="sun"><path d="M282.40,51.50 L278.10,62.60 L283.69,62.60 Z" fill="#f0c030"/><path d="M282.40,51.50 L283.69,62.60 L286.70,62.60 Z" fill="#9c7010"/><path d="M300.29,58.91 L289.40,63.72 L293.35,67.67 Z" fill="#f0c030"/><path d="M300.29,58.91 L293.35,67.67 L295.48,69.80 Z" fill="#9c7010"/><path d="M307.70,76.80 L296.60,72.50 L296.60,78.09 Z" fill="#f0c030"/><path d="M307.70,76.80 L296.60,78.09 L296.60,81.10 Z" fill="#9c7010"/><path d="M300.29,94.69 L295.48,83.80 L291.53,87.75 Z" fill="#f0c030"/><path d="M300.29,94.69 L291.53,87.75 L289.40,89.88 Z" fill="#9c7010"/><path d="M282.40,102.10 L286.70,91.00 L281.11,91.00 Z" fill="#f0c030"/><path d="M282.40,102.10 L281.11,91.00 L278.10,91.00 Z" fill="#9c7010"/><path d="M264.51,94.69 L275.40,89.88 L271.45,85.93 Z" fill="#f0c030"/><path d="M264.51,94.69 L271.45,85.93 L269.32,83.80 Z" fill="#9c7010"/><path d="M257.10,76.80 L268.20,81.10 L268.20,75.51 Z" fill="#f0c030"/><path d="M257.10,76.80 L268.20,75.51 L268.20,72.50 Z" fill="#9c7010"/><path d="M264.51,58.91 L269.32,69.80 L273.27,65.85 Z" fill="#f0c030"/><path d="M264.51,58.91 L273.27,65.85 L275.40,63.72 Z" fill="#9c7010"/><circle cx="282.4" cy="76.8" r="13.6" fill="#fff"/><circle cx="282.4" cy="76.8" r="12.6" fill="url(#sung)"/></g><rect x="194.4" y="28.5" width="5.9" height="168.5" fill="url(#cbL)" stroke="#bbb" stroke-width="0.8"/><rect x="509" y="28.5" width="6.5" height="167.5" fill="url(#cbR)" stroke="#bbb" stroke-width="0.8"/><line x1="201" y1="29.5" x2="203" y2="29.5" stroke="#999" stroke-width="0.7"/><text x="202" y="36.0" class="cb">53.8 nm</text><line x1="201" y1="41.4" x2="203" y2="41.4" stroke="#999" stroke-width="0.7"/><text x="202" y="47.9" class="cb">50.0</text><line x1="201" y1="57.1" x2="203" y2="57.1" stroke="#999" stroke-width="0.7"/><text x="202" y="63.6" class="cb">45.0</text><line x1="201" y1="72.8" x2="203" y2="72.8" stroke="#999" stroke-width="0.7"/><text x="202" y="79.3" class="cb">40.0</text><line x1="201" y1="88.4" x2="203" y2="88.4" stroke="#999" stroke-width="0.7"/><text x="202" y="94.9" class="cb">35.0</text><line x1="201" y1="104.1" x2="203" y2="104.1" stroke="#999" stroke-width="0.7"/><text x="202" y="110.6" class="cb">30.0</text><line x1="201" y1="119.8" x2="203" y2="119.8" stroke="#999" stroke-width="0.7"/><text x="202" y="126.3" class="cb">25.0</text><line x1="201" y1="135.5" x2="203" y2="135.5" stroke="#999" stroke-width="0.7"/><text x="202" y="142.0" class="cb">20.0</text><line x1="201" y1="151.2" x2="203" y2="151.2" stroke="#999" stroke-width="0.7"/><text x="202" y="157.7" class="cb">15.0</text><line x1="201" y1="166.8" x2="203" y2="166.8" stroke="#999" stroke-width="0.7"/><text x="202" y="173.3" class="cb">10.0</text><line x1="201" y1="182.5" x2="203" y2="182.5" stroke="#999" stroke-width="0.7"/><text x="202" y="189.0" class="cb">5.0</text><line x1="515.5" y1="29.5" x2="517.5" y2="29.5" stroke="#999" stroke-width="0.7"/><text x="518" y="36.0" class="cb">94 nm</text><line x1="515.5" y1="53.8" x2="517.5" y2="53.8" stroke="#999" stroke-width="0.7"/><text x="518" y="60.3" class="cb">80.0</text><line x1="515.5" y1="71.4" x2="517.5" y2="71.4" stroke="#999" stroke-width="0.7"/><text x="518" y="77.9" class="cb">70.0</text><line x1="515.5" y1="89.0" x2="517.5" y2="89.0" stroke="#999" stroke-width="0.7"/><text x="518" y="95.5" class="cb">60.0</text><line x1="515.5" y1="106.6" x2="517.5" y2="106.6" stroke="#999" stroke-width="0.7"/><text x="518" y="113.1" class="cb">50.0</text><line x1="515.5" y1="124.2" x2="517.5" y2="124.2" stroke="#999" stroke-width="0.7"/><text x="518" y="130.7" class="cb">40.0</text><line x1="515.5" y1="141.8" x2="517.5" y2="141.8" stroke="#999" stroke-width="0.7"/><text x="518" y="148.3" class="cb">30.0</text><line x1="515.5" y1="159.4" x2="517.5" y2="159.4" stroke="#999" stroke-width="0.7"/><text x="518" y="165.9" class="cb">20.0</text><line x1="515.5" y1="177.0" x2="517.5" y2="177.0" stroke="#999" stroke-width="0.7"/><text x="518" y="183.5" class="cb">10.0</text><line x1="515.5" y1="190.3" x2="517.5" y2="190.3" stroke="#999" stroke-width="0.7"/><text x="518" y="196.8" class="cb">0.0</text><g clip-path="url(#clipL)" style="isolation:isolate"><rect x="22" y="28" width="170" height="169" fill="#c93510"/><ellipse cx="95" cy="72" rx="48" ry="9" fill="#7a1402" opacity="0.3" filter="url(#b3)"/><ellipse cx="120" cy="54" rx="55" ry="6" fill="#7a1402" opacity="0.4" filter="url(#b3)"/><ellipse cx="92" cy="80" rx="16" ry="3" fill="#7a1402" opacity="0.4" filter="url(#b3)"/><ellipse cx="88" cy="59" rx="20" ry="4" fill="#7a1402" opacity="0.3" filter="url(#b3)"/><ellipse cx="130" cy="71" rx="12" ry="2" fill="#7a1402" opacity="0.45" filter="url(#b3)"/><ellipse cx="120" cy="36" rx="60" ry="3" fill="#7a1402" opacity="-0.0" filter="url(#b3)"/><ellipse cx="60" cy="50" rx="35" ry="3" fill="#7a1402" opacity="0.2" filter="url(#b3)"/><ellipse cx="97" cy="134" rx="13" ry="2.5" fill="#7a1402" opacity="0.55" filter="url(#b3)"/><ellipse cx="182" cy="150" rx="12" ry="3" fill="#7a1402" opacity="0.35" filter="url(#b3)"/><ellipse cx="25" cy="110" rx="5" ry="70" fill="#7a1402" opacity="0.15" filter="url(#b3)"/><ellipse cx="175" cy="66" rx="14" ry="4" fill="#7a1402" opacity="0.3" filter="url(#b3)"/><ellipse cx="130" cy="99" rx="40" ry="3" fill="#7a1402" opacity="0.15" filter="url(#b3)"/><ellipse cx="60" cy="160" rx="40" ry="3" fill="#7a1402" opacity="0.12" filter="url(#b3)"/><ellipse cx="185" cy="180" rx="8" ry="5" fill="#7a1402" opacity="0.3" filter="url(#b3)"/><ellipse cx="100" cy="29.5" rx="90" ry="1.5" fill="#e86a30" opacity="0.5" filter="url(#b2)"/><ellipse cx="100" cy="120" rx="60" ry="12" fill="#e86a30" opacity="0.12" filter="url(#b2)"/><ellipse cx="90" cy="180" rx="60" ry="12" fill="#e86a30" opacity="0.12" filter="url(#b2)"/><ellipse cx="100" cy="95" rx="70" ry="6" fill="#e86a30" opacity="0.08" filter="url(#b2)"/><rect x="22" y="28" width="170" height="169" filter="url(#texL)" opacity="0.6" style="mix-blend-mode:soft-light"/><circle cx="173" cy="172.6" r="2.4" fill="#3a0c02" opacity="0.85" filter="url(#b1)"/><ellipse cx="60.3" cy="57.2" rx="13" ry="10" fill="#e06028" opacity="0.35" filter="url(#b2)"/><ellipse cx="40" cy="74" rx="10" ry="13" fill="#e06028" opacity="0.35" filter="url(#b2)"/><ellipse cx="65.8" cy="78.4" rx="11" ry="9.5" fill="#e06028" opacity="0.35" filter="url(#b2)"/><ellipse cx="148" cy="71" rx="10" ry="7" fill="#e06028" opacity="0.35" filter="url(#b2)"/><ellipse cx="171" cy="82" rx="11" ry="8" fill="#e06028" opacity="0.35" filter="url(#b2)"/><ellipse cx="77.8" cy="132" rx="10" ry="8.5" fill="#e06028" opacity="0.35" filter="url(#b2)"/><ellipse cx="152" cy="170" rx="15" ry="20" fill="#e06028" opacity="0.35" filter="url(#b2)"/><ellipse cx="60.2" cy="57.4" rx="10.5" ry="7.5" fill="url(#gY)" filter="url(#b08)" opacity="1"/><ellipse cx="39.5" cy="68.8" rx="7.8" ry="5.8" fill="url(#gO)" filter="url(#b08)" opacity="1"/><ellipse cx="40" cy="78.5" rx="7.2" ry="5.6" fill="url(#gO)" filter="url(#b08)" opacity="1"/><ellipse cx="39.8" cy="73.5" rx="6.5" ry="6" fill="url(#gO)" filter="url(#b08)" opacity="1"/><ellipse cx="66" cy="78" rx="7.6" ry="6.4" fill="url(#gO2)" filter="url(#b08)" opacity="1"/><ellipse cx="147.9" cy="71" rx="8" ry="5.2" fill="url(#gO3)" filter="url(#b08)" opacity="1"/><ellipse cx="171" cy="82" rx="9" ry="6.2" fill="url(#gO2)" filter="url(#b08)" opacity="1"/><ellipse cx="77.8" cy="132" rx="8" ry="6.5" fill="url(#gO2)" filter="url(#b08)" opacity="1"/><ellipse cx="149.7" cy="155.7" rx="8" ry="6.5" fill="url(#gO)" filter="url(#b08)" opacity="1"/><ellipse cx="146" cy="168.5" rx="7.6" ry="5.8" fill="url(#gO)" filter="url(#b08)" opacity="1"/><ellipse cx="164.3" cy="174" rx="9" ry="5.2" fill="url(#gO3)" filter="url(#b08)" opacity="1"/><ellipse cx="153.4" cy="184.2" rx="9.6" ry="7" fill="url(#gO2)" filter="url(#b08)" opacity="1"/><rect x="22" y="28" width="170" height="169" filter="url(#texL)" opacity="0.5" style="mix-blend-mode:soft-light"/><rect x="26.6" y="182.3" width="83" height="2.5" fill="#fff"/><text x="48.8" y="179.7" class="sb">500 nm</text></g><g clip-path="url(#clipR)" style="isolation:isolate"><rect x="338" y="28" width="167" height="169" fill="#e6822f"/><rect x="374" y="49" width="32" height="18" rx="3" fill="#c23c0c" opacity="0.6" filter="url(#b2)"/><rect x="420" y="28" width="34" height="22" rx="3" fill="#c23c0c" opacity="0.5" filter="url(#b2)"/><rect x="486" y="33" width="14" height="23" rx="3" fill="#c23c0c" opacity="0.5" filter="url(#b2)"/><rect x="338" y="50" width="9" height="24" rx="3" fill="#c23c0c" opacity="0.4" filter="url(#b2)"/><rect x="338" y="82" width="11" height="18" rx="3" fill="#c23c0c" opacity="0.3" filter="url(#b2)"/><rect x="417" y="104" width="30" height="25" rx="3" fill="#c23c0c" opacity="0.85" filter="url(#b2)"/><rect x="478" y="103" width="22" height="22" rx="3" fill="#c23c0c" opacity="0.6" filter="url(#b2)"/><rect x="376" y="127" width="17" height="13" rx="3" fill="#c23c0c" opacity="0.6" filter="url(#b2)"/><rect x="338" y="130" width="12" height="26" rx="3" fill="#c23c0c" opacity="0.35" filter="url(#b2)"/><rect x="338" y="172" width="12" height="16" rx="3" fill="#c23c0c" opacity="0.45" filter="url(#b2)"/><rect x="426" y="173" width="18" height="18" rx="3" fill="#c23c0c" opacity="0.3" filter="url(#b2)"/><rect x="380" y="68" width="75" height="12" rx="3" fill="#c23c0c" opacity="0.15" filter="url(#b2)"/><rect x="338" y="150" width="167" height="10" rx="3" fill="#c23c0c" opacity="0.12" filter="url(#b2)"/><ellipse cx="364" cy="130" rx="28" ry="1.0" fill="#fac070" opacity="0.6" filter="url(#b1)"/><ellipse cx="480" cy="128" rx="12" ry="1.0" fill="#fac070" opacity="0.5" filter="url(#b1)"/><ellipse cx="420" cy="88" rx="80" ry="8" fill="#fac070" opacity="0.2" filter="url(#b1)"/><ellipse cx="463" cy="146" rx="42" ry="18" fill="#fac070" opacity="0.3" filter="url(#b1)"/><ellipse cx="475" cy="182" rx="30" ry="14" fill="#fac070" opacity="0.2" filter="url(#b1)"/><ellipse cx="404.8" cy="34" rx="15.5" ry="12" fill="url(#gR)" filter="url(#b08)" opacity="1"/><ellipse cx="417" cy="55.4" rx="14" ry="12.5" fill="url(#gR)" filter="url(#b08)" opacity="1"/><ellipse cx="470" cy="41.7" rx="17" ry="12.5" fill="url(#gR)" filter="url(#b08)" opacity="1"/><ellipse cx="363" cy="65.2" rx="17.8" ry="13.2" fill="url(#gR)" filter="url(#b08)" opacity="1"/><ellipse cx="458" cy="64.4" rx="4.8" ry="4" fill="url(#gRd)" filter="url(#b08)" opacity="1"/><ellipse cx="405.5" cy="118" rx="16.2" ry="14" fill="url(#gR)" filter="url(#b08)" opacity="1"/><ellipse cx="460" cy="116" rx="17.7" ry="14.8" fill="url(#gR)" filter="url(#b08)" opacity="1"/><ellipse cx="364.5" cy="137" rx="14.7" ry="11.7" fill="url(#gR)" filter="url(#b08)" opacity="1"/><ellipse cx="386.6" cy="177.5" rx="15.2" ry="13.8" fill="url(#gRd)" filter="url(#b08)" opacity="1"/><ellipse cx="491" cy="181" rx="12" ry="16" fill="url(#gRd)" filter="url(#b08)" opacity="1"/><ellipse cx="459" cy="183" rx="17" ry="14.5" fill="url(#gRd2)" filter="url(#b08)" opacity="1"/><ellipse cx="507" cy="115" rx="6" ry="12" fill="url(#gR)" filter="url(#b08)" opacity="1"/><rect x="338" y="28" width="167" height="169" filter="url(#texR)" style="mix-blend-mode:soft-light"/><rect x="349.9" y="183.8" width="81.2" height="2.5" fill="#fff"/><text x="366.4" y="180.8" class="sb">500 nm</text></g>
</svg></body></html>
